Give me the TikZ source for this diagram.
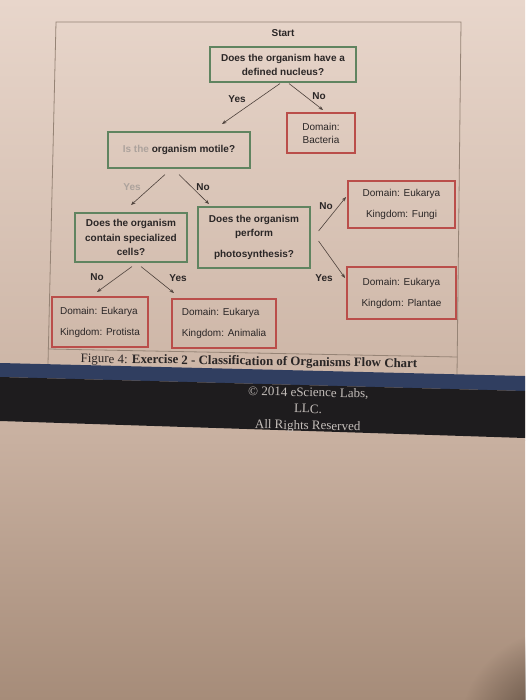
\documentclass[tikz,border=0pt]{standalone}
\usepackage{fontspec}
\setmainfont{Liberation Sans}
\newfontfamily\capfont{Liberation Serif}
\usetikzlibrary{arrows.meta,fadings}

\definecolor{papertop}{RGB}{232,214,203}
\definecolor{papermid}{RGB}{200,176,160}
\definecolor{paperbot}{RGB}{166,140,121}
\definecolor{shadowc}{RGB}{80,64,52}
\definecolor{framec}{RGB}{150,132,118}
\definecolor{qgreen}{RGB}{96,132,96}
\definecolor{ared}{RGB}{186,78,74}
\definecolor{ink}{RGB}{42,38,38}
\definecolor{faded}{RGB}{172,162,156}
\definecolor{arrowc}{RGB}{78,66,60}
\definecolor{bandblue}{RGB}{48,62,96}
\definecolor{banddark}{RGB}{30,28,30}
\definecolor{copyc}{RGB}{196,190,186}

\tikzfading[name=softspot,inner color=transparent!0,outer color=transparent!100]

\begin{document}
\begin{tikzpicture}[x=1pt,y=-1pt,
  question/.style={draw=qgreen,line width=1.1pt,align=center,inner sep=0pt,
    text=ink,font=\fontsize{10}{14}\selectfont\bfseries},
  answer/.style={draw=ared,line width=1.1pt,inner sep=0pt,
    text=ink,font=\fontsize{10}{21}\selectfont},
  yesno/.style={text=ink,font=\fontsize{10}{12}\selectfont\bfseries,inner sep=0pt},
  arrow/.style={draw=arrowc,line width=0.6pt,-{Stealth[length=4.5pt,width=3.5pt]}}]
\useasboundingbox (0,0) rectangle (525,700);

% the photographed page
\shade[top color=papertop,bottom color=papermid] (0,0) rectangle (525,440);
\shade[top color=papermid,bottom color=paperbot] (0,440) rectangle (525,700);
\fill[shadowc,path fading=softspot] (560,730) circle (100);
\draw[framec,line width=0.8pt] (48,364) -- (56,22) -- (461,22) -- (457,376);
\draw[framec,line width=0.8pt] (48.5,349) -- (457.3,357);

% questions
\node[yesno] (start) at (283,33) {Start};
\node[question,minimum width=146,minimum height=35] (q1) at (283,64.5)
  {Does the organism have a\\defined nucleus?};
\node[question,minimum width=142,minimum height=36] (q2) at (179,150)
  {\textcolor{faded}{Is the} organism motile?};
\node[question,minimum width=112,minimum height=49,
  font=\fontsize{10}{14.5}\selectfont\bfseries] (q3) at (131,237.5)
  {Does the organism\\contain specialized\\cells?};
\node[question,minimum width=112,minimum height=61] (q4) at (254,237.5)
  {Does the organism\\perform\\[7pt]photosynthesis?};

% results
\node[answer,minimum width=68,minimum height=40,align=center,
  font=\fontsize{10}{13}\selectfont] (bact) at (321,133) {Domain:\\Bacteria};
\node[answer,minimum width=107,minimum height=47,align=center] (fungi) at (401.5,204.5)
  {Domain: Eukarya\\Kingdom: Fungi};
\node[answer,minimum width=109,minimum height=52,align=center] (plant) at (401.5,293)
  {Domain: Eukarya\\Kingdom: Plantae};
\node[answer,minimum width=96,minimum height=50,align=left] (prot) at (100,322)
  {Domain: Eukarya\\Kingdom: Protista};
\node[answer,minimum width=104,minimum height=49,align=left] (anim) at (224,323.5)
  {Domain: Eukarya\\Kingdom: Animalia};

% arrows, their heads stop short of the boxes
\coordinate (q1yes) at (222,124);
\coordinate (q1no) at (323,110);
\coordinate (q2yes) at (131,205);
\coordinate (q2no) at (209,204);
\coordinate (q3no) at (97,292);
\coordinate (q3yes) at (174,293);
\coordinate (q4no) at (346,197);
\coordinate (q4yes) at (345,278);
\draw[arrow] ([shift={(-3,1)}]q1.south) -- (q1yes);
\draw[arrow] ([shift={(6,1)}]q1.south) -- (q1no);
\draw[arrow] ([shift={(-14,6)}]q2.south) -- (q2yes);
\draw[arrow] ([shift={(0,6)}]q2.south) -- (q2no);
\draw[arrow] ([shift={(1,4)}]q3.south) -- (q3no);
\draw[arrow] ([shift={(10,4)}]q3.south) -- (q3yes);
\draw[arrow] ([shift={(8,-6.5)}]q4.east) -- (q4no);
\draw[arrow] ([shift={(8,3.5)}]q4.east) -- (q4yes);

% yes / no
\node[yesno] (l1y) at (237,99) {Yes};
\node[yesno] (l1n) at (319,96) {No};
\node[yesno,text=faded] (l2y) at (132,187) {Yes};
\node[yesno] (l2n) at (203,187) {No};
\node[yesno] (l3n) at (97,277) {No};
\node[yesno] (l3y) at (178,278) {Yes};
\node[yesno] (l4n) at (326,206) {No};
\node[yesno] (l4y) at (324,278) {Yes};

% caption
\node[text=ink,font=\capfont\fontsize{12.9}{14}\selectfont,rotate=-0.85,inner sep=0pt]
  (cap) at (249,362) {Figure 4: \textbf{Exercise 2 - Classification of Organisms Flow Chart}};

% dark footer band
\fill[bandblue] (0,363) -- (525,376) -- (525,391) -- (0,377) -- cycle;
\fill[banddark] (0,377) -- (525,391) -- (525,438) -- (0,421) -- cycle;
\node[text=copyc,font=\capfont\fontsize{13}{16.5}\selectfont,align=center,rotate=-1.2,inner sep=0pt]
  (copy) at (308,410) {© 2014 eScience Labs,\\LLC.\\All Rights Reserved};
\end{tikzpicture}
\end{document}
